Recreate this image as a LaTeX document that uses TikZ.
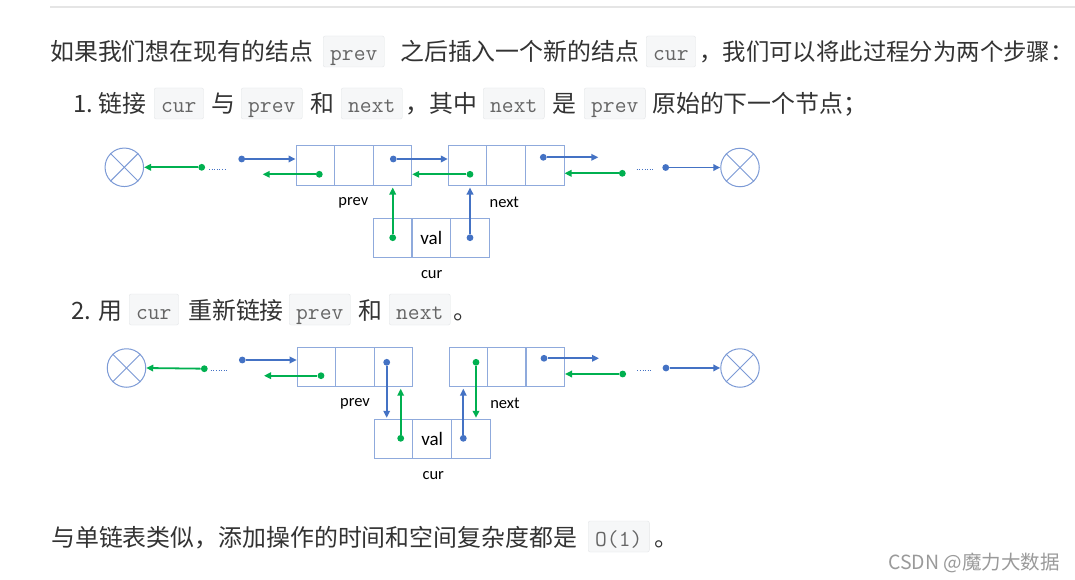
\documentclass[tikz,border=0pt]{standalone}
\usepackage{fontspec}
\newfontfamily\cjk{Noto Sans CJK SC}
\newfontfamily\lab{Carlito}
\usetikzlibrary{arrows.meta}
\definecolor{txt}{HTML}{333333}
\definecolor{codefill}{HTML}{F6F7F8}
\definecolor{codedraw}{HTML}{E4E6E8}
\definecolor{codetext}{HTML}{666666}
\definecolor{boxc}{HTML}{8FAADC}
\definecolor{nulc}{HTML}{7C9AD6}
\definecolor{blu}{HTML}{4472C4}
\definecolor{grn}{HTML}{00B050}
\definecolor{rule}{HTML}{E5E5E5}
\definecolor{wm}{HTML}{9A9A9A}
\begin{document}
\begin{tikzpicture}[x=1pt,y=-1pt,
  body/.style={anchor=base west, inner sep=0pt, text=txt, font=\cjk\fontsize{23.9}{28}\selectfont},
  code/.style={anchor=base west, draw=codedraw, fill=codefill, rounded corners=2pt, text=codetext,
    font=\ttfamily\fontsize{22.86}{26}\selectfont, inner xsep=7pt, inner ysep=0pt, text height=25pt, text depth=6pt},
  cell/.style={draw=boxc, line width=1pt, minimum width=38.6pt, minimum height=39pt, inner sep=0pt,
    font=\lab\fontsize{19}{22}\selectfont, text=black},
  nul/.style={draw=nulc, circle, minimum size=38.5pt, inner sep=0pt, line width=1pt},
  lbl/.style={font=\lab\fontsize{16.5}{20}\selectfont, inner sep=0pt, text=black},
  dot/.style={circle, fill=#1, inner sep=0pt, minimum size=6.8pt},
  barr/.style={draw=blu, line width=1.8pt, -{Triangle[length=7pt,width=6.5pt]}},
  garr/.style={draw=grn, line width=1.8pt, -{Triangle[length=7pt,width=6.5pt]}},
  dotsline/.style={draw=blu, line width=1pt, dash pattern=on 1pt off 1.6pt}
]
\fill[white] (0,0) rectangle (1075,580);
\useasboundingbox (0,0) rectangle (1075,580);
\draw[rule, line width=1.2pt] (50,7) -- (1075,7);

% ---------- line 1 ----------
\node[body] (t1a) at (50,61) {如果我们想在现有的结点};
\node[code] (k1a) at (323,61) {prev};
\node[body] (t1b) at (400,61) {之后插入一个新的结点};
\node[code] (k1b) at (646,61) {cur};
\node[body, font=\cjk\fontsize{23.4}{28}\selectfont] (t1c) at (699,61) {，我们可以将此过程分为两个步骤：};

% ---------- line 2 ----------
\node[body] (t2a) at (73,113) {1.};
\node[body] (t2b) at (98,113) {链接};
\node[code] (k2a) at (154,113) {cur};
\node[body] (t2c) at (211,113) {与};
\node[code] (k2b) at (241,113) {prev};
\node[body] (t2d) at (310,113) {和};
\node[code] (k2c) at (341,113) {next};
\node[body] (t2e) at (405,113) {，其中};
\node[code] (k2d) at (483,113) {next};
\node[body] (t2f) at (552,113) {是};
\node[code] (k2e) at (584,113) {prev};
\node[body] (t2g) at (652,113) {原始的下一个节点；};

% ---------- diagram 1 ----------
\node[nul] (lc1) at (124.3,167.3) {};
\node[nul] (rc1) at (740,167.5) {};
\foreach \c in {lc1,rc1}{
  \draw[nulc, line width=1pt] (\c.north west) -- (\c.south east);
  \draw[nulc, line width=1pt] (\c.north east) -- (\c.south west);
}
\node[cell] (p1a) at (315.3,165.5) {};
\node[cell] (p1b) at (353.9,165.5) {};
\node[cell] (p1c) at (392.4,165.5) {};
\node[cell] (n1a) at (467.6,165.5) {};
\node[cell] (n1b) at (506.2,165.5) {};
\node[cell] (n1c) at (544.7,165.5) {};
\node[cell] (c1a) at (392.6,238.3) {};
\node[cell] (c1b) at (431.3,238.3) {val};
\node[cell] (c1c) at (470.0,238.3) {};
\node[lbl] (lp1) at (353.3,202.7) {prev};
\node[lbl] (ln1) at (504.3,202.3) {next};
\node[lbl] (lk1) at (431.7,275) {cur};

\node[dot=grn] (g11) at (201.7,167.3) {};
\node[dot=blu] (b11) at (241.7,159) {};
\node[dot=grn] (g12) at (319.3,174.3) {};
\node[dot=blu] (b12) at (393.3,159) {};
\node[dot=grn] (g13) at (470,174.3) {};
\node[dot=blu] (b13) at (543.3,157.3) {};
\node[dot=grn] (g14) at (622.3,173.3) {};
\node[dot=blu] (b14) at (665.7,167.5) {};
\node[dot=grn] (g15) at (392.7,237.7) {};
\node[dot=blu] (b15) at (470,237.7) {};
\coordinate (e12) at (262.7,174.3);
\coordinate (e13) at (598.3,157.3);

\draw[garr] (g11) -- (lc1.east);
\draw[barr] (b11) -- (b11 -| p1a.west);
\draw[garr] (g12) -- (e12);
\draw[barr] (b12) -- (b12 -| n1a.west);
\draw[garr] (g13) -- (g13 -| p1c.east);
\draw[barr] (b13) -- (e13);
\draw[garr] (g14) -- (g14 -| n1c.east);
\draw[barr] (b14) -- (rc1.west);
\draw[garr, shorten >=2pt] (g15) -- (g15 |- p1c.south);
\draw[barr, shorten >=2pt] (b15) -- (b15 |- n1a.south);
\draw[dotsline] (209,170) -- (225,170);
\draw[dotsline] (636.7,170) -- (652.7,170);

% ---------- line 3 ----------
\node[body] (t3a) at (71,319) {2.};
\node[body] (t3b) at (98,319) {用};
\node[code] (k3a) at (129,319) {cur};
\node[body] (t3c) at (188,319) {重新链接};
\node[code] (k3b) at (289,319) {prev};
\node[body] (t3d) at (358,319) {和};
\node[code] (k3c) at (389,319) {next};
\node[body] (t3e) at (453,319) {。};

% ---------- diagram 2 ----------
\node[nul] (lc2) at (126.5,368) {};
\node[nul] (rc2) at (740,368) {};
\foreach \c in {lc2,rc2}{
  \draw[nulc, line width=1pt] (\c.north west) -- (\c.south east);
  \draw[nulc, line width=1pt] (\c.north east) -- (\c.south west);
}
\node[cell] (p2a) at (316.5,366.7) {};
\node[cell] (p2b) at (355.0,366.7) {};
\node[cell] (p2c) at (393.5,366.7) {};
\node[cell] (n2a) at (468.5,366.7) {};
\node[cell] (n2b) at (506.8,366.7) {};
\node[cell] (n2c) at (545.2,366.7) {};
\node[cell] (c2a) at (393.6,438.8) {};
\node[cell] (c2b) at (432.2,438.8) {val};
\node[cell] (c2c) at (470.7,438.8) {};
\node[lbl] (lp2) at (355,404) {prev};
\node[lbl] (ln2) at (505,403.3) {next};
\node[lbl] (lk2) at (433.3,475.7) {cur};

\node[dot=grn] (g21) at (204.3,368.7) {};
\node[dot=blu] (b21) at (242.3,360) {};
\node[dot=grn] (g22) at (321,375.7) {};
\node[dot=blu] (b22) at (386.7,362.3) {};
\node[dot=grn] (g23) at (400.7,438.3) {};
\node[dot=blu] (b23) at (463.3,438.3) {};
\node[dot=grn] (g24) at (476,362.3) {};
\node[dot=blu] (b24) at (544,358.3) {};
\node[dot=grn] (g25) at (622.7,374) {};
\node[dot=blu] (b25) at (666,368) {};
\coordinate (e22) at (264,375.7);
\coordinate (e24) at (599,358.3);

\draw[garr] (g21) -- (lc2.east);
\draw[barr] (b21) -- (b21 -| p2a.west);
\draw[garr] (g22) -- (e22);
\draw[barr, shorten >=1pt] (b22) -- (b22 |- c2a.north);
\draw[garr, shorten >=2pt] (g23) -- (g23 |- p2c.south);
\draw[barr, shorten >=2pt] (b23) -- (b23 |- n2a.south);
\draw[garr, shorten >=1pt] (g24) -- (g24 |- c2c.north);
\draw[barr] (b24) -- (e24);
\draw[garr] (g25) -- (g25 -| n2c.east);
\draw[barr] (b25) -- (rc2.west);
\draw[dotsline] (210.7,370.7) -- (226.7,370.7);
\draw[dotsline] (637.3,370.7) -- (652.7,370.7);

% ---------- bottom line ----------
\node[body] (t4a) at (51,546) {与单链表类似，添加操作的时间和空间复杂度都是};
\node[code] (k4a) at (588,546) {O(1)};
\node[body] (t4b) at (654,546) {。};
\node[anchor=base east, inner sep=0pt, text=wm, font=\cjk\fontsize{19.5}{22}\selectfont] (wmk) at (1060,569) {CSDN @魔力大数据};
\end{tikzpicture}
\end{document}
